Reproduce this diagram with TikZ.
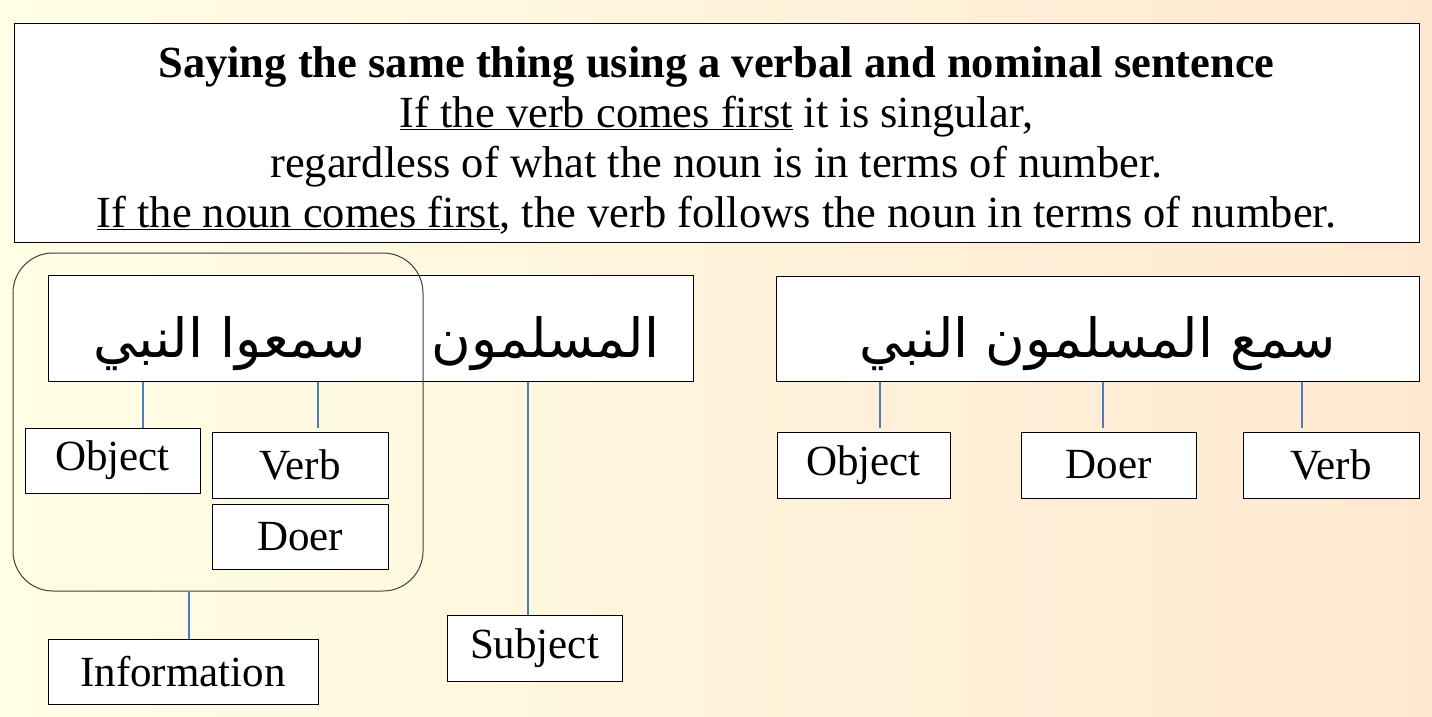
\documentclass[tikz,border=0pt]{standalone}
\usepackage{fontspec}
\setmainfont{Liberation Serif}
\newfontfamily\arabicfont[Script=Arabic]{DejaVu Sans}
\TeXXeTstate=1
\usetikzlibrary{positioning}
\definecolor{linkblue}{RGB}{74,126,187}

\begin{document}
\begin{tikzpicture}[x=1pt, y=-1pt,
        wordbox/.style={draw=black, fill=white, line width=1pt, inner sep=0pt,
            minimum width=175pt, minimum height=65pt, font=\fontsize{43}{50}\selectfont},
        sentbox/.style={draw=black, fill=white, line width=1pt, inner sep=0pt,
            text height=58pt, text depth=0pt,
            minimum width=644pt, minimum height=106pt, font=\arabicfont\fontsize{54}{60}\selectfont},
        link/.style={draw=linkblue, line width=1.5pt}
    ]
    \useasboundingbox (0,0) rectangle (1432,717);
    \shade[left color=yellow!10, right color=orange!18] (0,0) rectangle (1432,717);

    % rule box
    \node[draw=black, fill=white, line width=1pt, minimum width=1405pt, minimum height=218pt]
        (rule) at (716.5,133) {};
    \node[align=center, inner sep=0pt, font=\fontsize{44.5}{50}\selectfont] (ruletext) at (716.5,140)
        {\textbf{Saying the same thing using a verbal and nominal sentence}\\
         \underline{If the verb comes first} it is singular,\\
         regardless of what the noun is in terms of number.\\
         \underline{If the noun comes first}, the verb follows the noun in terms of number.};

    % nominal sentence
    \node[sentbox, minimum width=645pt] (nominal) at (370.5,328)
        {\beginR المسلمون\hspace{66pt}سمعوا النبي\hspace{12pt}\endR};
    \node[wordbox] (obj1) at (112.5,460.5) {Object};
    \node[wordbox, minimum width=176pt, minimum height=66pt] (verb1) at (300,465) {Verb};
    \node[wordbox, minimum width=176pt, below=5pt of verb1] (doer1) {Doer};
    \node[wordbox, minimum width=270pt] (info) at (183,671.5) {Information};
    \node[wordbox, minimum height=66pt] (subj) at (534.5,648) {Subject};
    \node[draw=black!75, line width=1pt, rounded corners=40pt, minimum width=410pt,
        minimum height=338pt] (group) at (218,422) {};

    % verbal sentence
    \node[sentbox, minimum width=643pt, minimum height=105pt] (verbal) at (1097.5,328.5)
        {\beginR سمع المسلمون النبي\endR};
    \node[wordbox, minimum width=173pt, minimum height=66pt] (obj2) at (863.5,465) {Object};
    \node[wordbox, minimum height=66pt] (doer2) at (1108.5,465) {Doer};
    \node[wordbox, minimum width=176pt, minimum height=66pt] (verb2) at (1331,465) {Verb};

    % columns of the links
    \coordinate (c1) at (143,0);
    \coordinate (c2) at (318,0);
    \coordinate (c3) at (528,0);
    \coordinate (c4) at (189,0);
    \coordinate (c5) at (880,0);
    \coordinate (c6) at (1103,0);
    \coordinate (c7) at (1302,0);

    \draw[link] (nominal.south -| c1) -- (obj1.north -| c1);
    \draw[link] (nominal.south -| c2) -- ([yshift=4pt]verb1.north -| c2);
    \draw[link] (nominal.south -| c3) -- (subj.north -| c3);
    \draw[link] (group.south -| c4) -- (info.north -| c4);
    \draw[link] (verbal.south -| c5) -- ([yshift=4pt]obj2.north -| c5);
    \draw[link] (verbal.south -| c6) -- ([yshift=4pt]doer2.north -| c6);
    \draw[link] (verbal.south -| c7) -- ([yshift=4pt]verb2.north -| c7);
\end{tikzpicture}
\end{document}
